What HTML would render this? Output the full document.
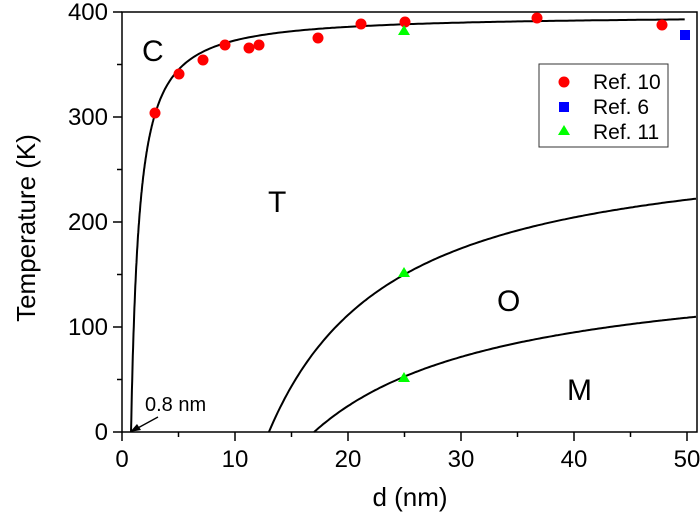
<!DOCTYPE html>
<html><head><meta charset="utf-8"><style>
html,body{margin:0;padding:0;background:#fff;}
svg{display:block;font-family:"Liberation Sans",Arial,sans-serif;}
</style></head><body>
<svg id="s" width="700" height="519" viewBox="0 0 700 519">
<rect x="122" y="12" width="575" height="420" fill="none" stroke="#000" stroke-width="1.5"/>
<g id="ticks" stroke="#000" stroke-width="1.5"></g>
<g font-size="24" fill="#000">
<text x="108" y="440" text-anchor="end">0</text>
<text x="108" y="335" text-anchor="end">100</text>
<text x="108" y="230" text-anchor="end">200</text>
<text x="108" y="125" text-anchor="end">300</text>
<text x="108" y="20" text-anchor="end">400</text>
<text x="122" y="467" text-anchor="middle">0</text>
<text x="235" y="467" text-anchor="middle">10</text>
<text x="348" y="467" text-anchor="middle">20</text>
<text x="461" y="467" text-anchor="middle">30</text>
<text x="574" y="467" text-anchor="middle">40</text>
<text x="687" y="467" text-anchor="middle">50</text>
</g>
<text x="410" y="506" font-size="26" text-anchor="middle">d (nm)</text>
<text transform="translate(35,228) rotate(-90)" font-size="26" text-anchor="middle">Temperature (K)</text>
<g font-size="30">
<text x="142" y="61">C</text>
<text x="268" y="212">T</text>
<text x="497" y="311">O</text>
<text x="567" y="400">M</text>
</g>
<text x="145" y="411" font-size="20">0.8 nm</text>
<line x1="158" y1="417" x2="136" y2="429" stroke="#000" stroke-width="1.3"/>
<polygon points="130,432 137,424 141,430" fill="#000"/>
<g id="curves" fill="none" stroke="#000" stroke-width="2"></g>
<g fill="#f00">
<circle cx="155" cy="113" r="5.5"/><circle cx="179" cy="74" r="5.5"/><circle cx="203" cy="60" r="5.5"/>
<circle cx="225" cy="45" r="5.5"/><circle cx="249" cy="48" r="5.5"/><circle cx="259" cy="45" r="5.5"/>
<circle cx="318" cy="38" r="5.5"/><circle cx="361" cy="24" r="5.5"/><circle cx="405" cy="22" r="5.5"/>
<circle cx="537" cy="18" r="5.5"/><circle cx="662" cy="25" r="5.5"/>
</g>
<rect x="680" y="30" width="10" height="10" fill="#00f"/>
<g fill="#0f0">
<polygon points="404,25 410,35 398,35"/>
<polygon points="404,267 410,277 398,277"/>
<polygon points="404,372 410,382 398,382"/>
</g>
<rect x="539" y="64" width="129" height="83" fill="#fff" stroke="#333" stroke-width="1"/>
<circle cx="564" cy="82" r="5.5" fill="#f00"/>
<rect x="559" y="102" width="10" height="10" fill="#00f"/>
<polygon points="564,125 570,135 558,135" fill="#0f0"/>
<g font-size="21"><text x="593" y="89">Ref. 10</text><text x="593" y="114">Ref. 6</text><text x="593" y="139">Ref. 11</text></g>
</svg>
<script>
var X=d=>122+11.3*d, Y=t=>432-1.05*t;
var t=document.getElementById('ticks'),h='';
for(var i=0;i<=10;i++){var x=X(i*5);h+='<line x1="'+x+'" y1="432" x2="'+x+'" y2="'+(432+(i%2?5:9))+'"/>';}
for(var i=0;i<=8;i++){var y=Y(i*50);h+='<line x1="122" y1="'+y+'" x2="'+(122-(i%2?5:9))+'" y2="'+y+'"/>';}
t.innerHTML=h;
function path(d0,A,n,dmax){var p='';for(var d=d0;d<=dmax;d+=(d<3?0.02:0.2)){var T=A*(1-Math.pow(d0/d,n));p+=(p?'L':'M')+X(d).toFixed(1)+','+Y(T).toFixed(1);}return '<path d="'+p+'"/>';}
document.getElementById('curves').innerHTML=path(0.8,397,1.11,50)+path(13,276,1.2,50.9)+path(17,165,1,50.9);
</script>
</body></html>
